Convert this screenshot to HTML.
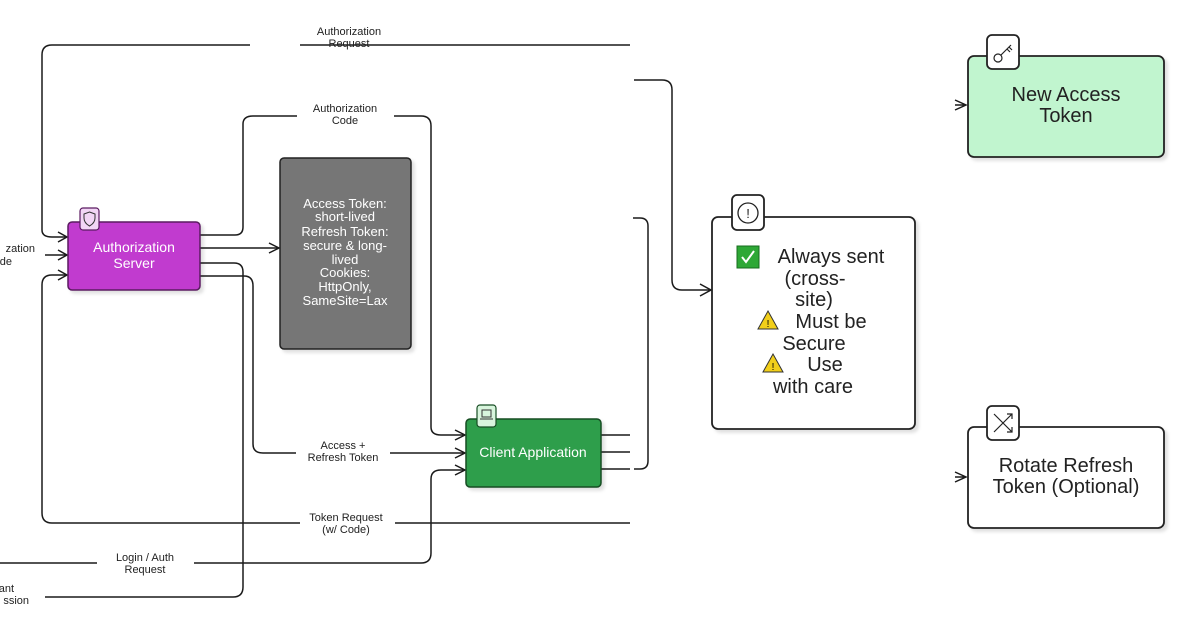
<!DOCTYPE html>
<html><head><meta charset="utf-8"><style>
html,body{margin:0;padding:0;background:#fff;width:1200px;height:630px;overflow:hidden}
text{font-family:"Liberation Sans",sans-serif}
</style></head><body>
<svg width="1200" height="630" viewBox="0 0 1200 630" xmlns="http://www.w3.org/2000/svg">
<defs>
<filter id="sh" x="-10%" y="-10%" width="130%" height="130%"><feDropShadow dx="3" dy="3" stdDeviation="1.5" flood-color="#000" flood-opacity="0.12"/></filter>
</defs>
<g fill="none" stroke="#1a1a1a" stroke-width="1.5">
<!-- Authorization request -->
<path d="M630 45 H300 M250 45 H52 Q42 45 42 55 V230 Q42 237 52 237 H66"/>
<path d="M58 232 L67 237 L58 242"/>
<!-- left incoming -->
<path d="M45 255 H66"/><path d="M58 250 L67 255 L58 260"/>
<!-- token request -->
<path d="M630 523 H395 M300 523 H52 Q42 523 42 513 V285 Q42 275 52 275 H66"/>
<path d="M58 270 L67 275 L58 280"/>
<!-- auth code -->
<path d="M200 235 H235 Q243 235 243 227 V124 Q243 116 253 116 H297 M394 116 H421 Q431 116 431 126 V427 Q431 435 441 435 H464"/>
<path d="M455 430 L465 435 L455 440"/>
<!-- to gray -->
<path d="M200 248 H278"/><path d="M269 243 L279 248 L269 253"/>
<!-- grant permission -->
<path d="M200 263 H234 Q243 263 243 272 V587 Q243 597 233 597 H45"/>
<!-- access + refresh -->
<path d="M200 276 H244 Q253 276 253 286 V444 Q253 453 263 453 H296 M390 453 H464"/>
<path d="M455 448 L465 453 L455 458"/>
<!-- login -->
<path d="M0 563 H97 M194 563 H421 Q431 563 431 553 V479 Q431 470 441 470 H464"/>
<path d="M455 465 L465 470 L455 475"/>
<!-- client outputs -->
<path d="M601 435 H630 M601 452 H630 M601 469 H630"/>
<path d="M634 469 H640 Q648 469 648 461 V226 Q648 218 640 218 H633"/>
<!-- to notice -->
<path d="M634 80 H662 Q672 80 672 90 V280 Q672 290 682 290 H710"/>
<path d="M700 284 L711 290 L700 296"/>
<!-- right arrows -->
<path d="M955 100 L966 105 L955 110 M955 105 H966"/>
<path d="M955 472 L966 477 L955 482 M955 477 H966"/>
</g>
<g font-size="11" fill="#222" text-anchor="middle">
<text x="349" y="35">Authorization</text><text x="349" y="47">Request</text>
<text x="345" y="112">Authorization</text><text x="345" y="124">Code</text>
<text x="343" y="449">Access +</text><text x="343" y="461">Refresh Token</text>
<text x="346" y="521">Token Request</text><text x="346" y="533">(w/ Code)</text>
<text x="145" y="561">Login / Auth</text><text x="145" y="573">Request</text>
<text x="35" y="252" text-anchor="end">zation</text><text x="12" y="265" text-anchor="end">de</text>
<text x="14" y="592" text-anchor="end">ant</text><text x="29" y="604" text-anchor="end">ssion</text>
</g>
<!-- Authorization server -->
<rect x="68" y="222" width="132" height="68" rx="4" fill="#c13bcf" stroke="#5a1a60" stroke-width="1.5" filter="url(#sh)"/>
<rect x="80" y="208" width="19" height="22" rx="3" fill="#f2d6f5" stroke="#5a1a60" stroke-width="1.2"/>
<path d="M89.5 212 L95 214 V218 Q95 223 89.5 226 Q84 223 84 218 V214 Z" fill="none" stroke="#333" stroke-width="1"/>
<text x="134" y="252" font-size="14" fill="#fff" text-anchor="middle">Authorization</text>
<text x="134" y="268" font-size="14" fill="#fff" text-anchor="middle">Server</text>
<!-- gray box -->
<rect x="280" y="158" width="131" height="191" rx="4" fill="#767676" stroke="#222" stroke-width="1.5" filter="url(#sh)"/>
<g font-size="13" fill="#fff" text-anchor="middle">
<text x="345" y="208">Access Token:</text><text x="345" y="221">short-lived</text>
<text x="345" y="236">Refresh Token:</text><text x="345" y="250">secure &amp; long-</text>
<text x="345" y="264">lived</text><text x="345" y="277">Cookies:</text>
<text x="345" y="291">HttpOnly,</text><text x="345" y="305">SameSite=Lax</text>
</g>
<!-- client app -->
<rect x="466" y="419" width="135" height="68" rx="4" fill="#2e9e4c" stroke="#174d24" stroke-width="1.5" filter="url(#sh)"/>
<rect x="477" y="405" width="19" height="22" rx="3" fill="#d8f5dd" stroke="#174d24" stroke-width="1.2"/>
<rect x="482" y="410" width="9" height="7" fill="none" stroke="#333" stroke-width="1"/><path d="M480 419 H493" stroke="#333"/>
<text x="533" y="457" font-size="14" fill="#fff" text-anchor="middle">Client Application</text>
<!-- notice -->
<rect x="712" y="217" width="203" height="212" rx="6" fill="#fff" stroke="#222" stroke-width="1.8" filter="url(#sh)"/>
<rect x="732" y="195" width="32" height="35" rx="5" fill="#fff" stroke="#222" stroke-width="1.8"/>
<circle cx="748" cy="213" r="10" fill="none" stroke="#222" stroke-width="1.3"/>
<text x="748" y="218" font-size="13" text-anchor="middle" fill="#222">!</text>
<rect x="737" y="246" width="22" height="22" fill="#2ea836" stroke="#176d1e"/>
<path d="M742 257 L746 262 L754 251" fill="none" stroke="#fff" stroke-width="2"/>
<g font-size="20" fill="#222" text-anchor="middle">
<text x="831" y="263">Always sent</text>
<text x="815" y="285">(cross-</text>
<text x="814" y="306">site)</text>
<text x="831" y="328">Must be</text>
<text x="814" y="350">Secure</text>
<text x="825" y="371">Use</text>
<text x="813" y="393">with care</text>
</g>
<path d="M768 311 L778 329 H758 Z" fill="#f2cf1a" stroke="#333"/><text x="768" y="327" font-size="10" text-anchor="middle">!</text>
<path d="M773 354 L783 372 H763 Z" fill="#f2cf1a" stroke="#333"/><text x="773" y="370" font-size="10" text-anchor="middle">!</text>
<!-- new access token -->
<rect x="968" y="56" width="196" height="101" rx="6" fill="#c1f5cf" stroke="#222" stroke-width="1.8" filter="url(#sh)"/>
<rect x="987" y="35" width="32" height="34" rx="5" fill="#fff" stroke="#222" stroke-width="1.8"/>
<circle cx="998" cy="58" r="4" fill="none" stroke="#222" stroke-width="1.2"/><path d="M1001 55 L1011 45 M1007 49 L1010 52 M1009 47 L1012 50" stroke="#222" stroke-width="1.2"/>
<text x="1066" y="101" font-size="20" fill="#222" text-anchor="middle">New Access</text>
<text x="1066" y="122" font-size="20" fill="#222" text-anchor="middle">Token</text>
<!-- rotate -->
<rect x="968" y="427" width="196" height="101" rx="6" fill="#fff" stroke="#222" stroke-width="1.8" filter="url(#sh)"/>
<rect x="987" y="406" width="32" height="34" rx="5" fill="#fff" stroke="#222" stroke-width="1.8"/>
<path d="M994 414 L1012 432 M994 432 L1012 414 M1007 414 H1012 V419 M1007 432 H1012 V427" fill="none" stroke="#222" stroke-width="1.2"/>
<text x="1066" y="472" font-size="20" fill="#222" text-anchor="middle">Rotate Refresh</text>
<text x="1066" y="493" font-size="20" fill="#222" text-anchor="middle">Token (Optional)</text>
</svg>
</body></html>
